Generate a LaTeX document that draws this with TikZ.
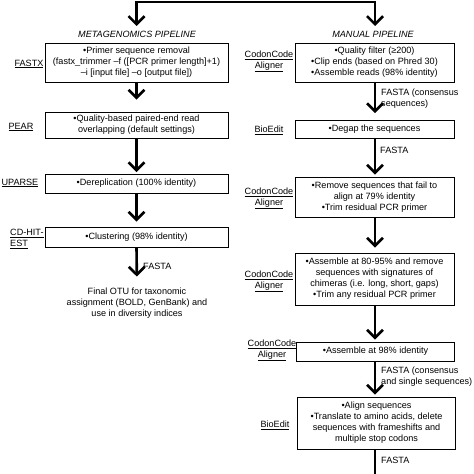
\documentclass[tikz,border=0pt]{standalone}
\usepackage{fontspec}
\setmainfont{Liberation Sans}
\usetikzlibrary{arrows.meta}
\newcommand\dfont{\fontsize{9.1}{11}\selectfont}
\tikzset{
  box/.style={draw, line width=0.8pt, align=center, inner sep=0pt, font=\dfont},
  lbl/.style={align=center, inner sep=0pt, font=\dfont},
  tool/.style={align=center, inner sep=0pt, font=\dfont},
  heading/.style={align=center, inner sep=0pt, font=\dfont\itshape},
  thickline/.style={line width=2.6pt},
  arr/.style={line width=2.6pt, -{Straight Barb[length=8pt,width=16pt]}},
}
\begin{document}
\begin{tikzpicture}[x=1pt,y=-1pt]
\useasboundingbox (0,0) rectangle (474,474);
% top connector
\coordinate (tl) at (136.5,2);
\coordinate (tr) at (375,2);
\node[heading] (h1) at (137,34) {METAGENOMICS PIPELINE};
\node[heading] (h2) at (373,34) {MANUAL PIPELINE};
\draw[thickline, line cap=rect] (tl) -- (tr);
\draw[arr] (tl) -- (136.5,26);
\draw[arr] (tr) -- (375,26);

% left column boxes
\node[box, minimum width=183pt, minimum height=39pt] (l1) at (136.5,62.5)
  {•Primer sequence removal\\(fastx\_trimmer –f ([PCR primer length]+1)\\–i [input file] –o [output file])};
\node[box, minimum width=183pt, minimum height=26pt] (l2) at (136.5,125)
  {•Quality-based paired-end read\\overlapping (default settings)};
\node[box, minimum width=183pt, minimum height=19pt] (l3) at (136.5,183.5)
  {•Dereplication (100\% identity)};
\node[box, minimum width=183pt, minimum height=20pt] (l4) at (136.5,237)
  {•Clustering (98\% identity)};
\node[lbl] (l5) at (137,303)
  {Final OTU for taxonomic\\assignment (BOLD, GenBank) and\\use in diversity indices};

% left tools
\node[tool] (t1) at (29,64) {\underline{FASTX}};
\node[tool] (t2) at (21,127) {\underline{PEAR}};
\node[tool, anchor=east] (t3) at (38.5,183) {\underline{UPARSE}};
\node[tool, align=left, anchor=west] (t4) at (10,239) {\underline{CD-HIT-}\\\underline{EST}};

% left arrows
\draw[arr, shorten >=12pt] (l1.south) -- (l2.north);
\draw[arr, shorten >=1.5pt] (l2.south) -- (l3.north);
\draw[arr, shorten >=5pt] (l3.south) -- (l4.north);
\draw[arr, shorten >=11pt] (l4.south) -- (l5.north);
\node[lbl, anchor=west] (f1) at (143,266) {FASTA};

% right column boxes
\node[box, minimum width=159pt, minimum height=39pt] (r1) at (374.5,62.5)
  {•Quality filter (≥200)\\•Clip ends (based on Phred 30)\\•Assemble reads (98\% identity)};
\node[box, minimum width=159pt, minimum height=18pt] (r2) at (374.5,129.5)
  {•Degap the sequences};
\node[box, minimum width=159pt, minimum height=40pt] (r3) at (374.5,197)
  {•Remove sequences that fail to\\align at 79\% identity\\•Trim residual PCR primer};
\node[box, minimum width=159pt, minimum height=52pt] (r4) at (374.5,279)
  {•Assemble at 80-95\% and remove\\sequences with signatures of\\chimeras (i.e. long, short, gaps)\\•Trim any residual PCR primer};
\node[box, minimum width=158pt, minimum height=19pt] (r5) at (375.5,351.5)
  {•Assemble at 98\% identity};
\node[box, minimum width=158pt, minimum height=52pt] (r6) at (376.5,423)
  {•Align sequences\\•Translate to amino acids, delete\\sequences with frameshifts and\\multiple stop codons};
\coordinate (rend) at (375,476);

% right tools
\node[tool] (s1) at (269,61.5) {\underline{CodonCode}\\\underline{Aligner}};
\node[tool] (s2) at (269,130) {\underline{BioEdit}};
\node[tool] (s3) at (269,198.5) {\underline{CodonCode}\\\underline{Aligner}};
\node[tool] (s4) at (269,281.5) {\underline{CodonCode}\\\underline{Aligner}};
\node[tool] (s5) at (272,350.5) {\underline{CodonCode}\\\underline{Aligner}};
\node[tool] (s6) at (275,425) {\underline{BioEdit}};

% right arrows
\draw[arr, shorten >=7pt] (r1.south -| 375,0) -- (r2.north -| 375,0);
\draw[arr, shorten >=2pt] (r2.south -| 375,0) -- (r3.north -| 375,0);
\draw[arr, shorten >=5pt] (r3.south -| 375,0) -- (r4.north -| 375,0);
\draw[arr, shorten >=2pt] (r4.south -| 375,0) -- (r5.north -| 375,0);
\draw[arr, shorten >=2pt] (r5.south -| 375,0) -- (r6.north -| 375,0);
\draw[thickline] (r6.south -| 375,0) -- (rend);

% right arrow labels
\node[lbl, align=left, anchor=west] (g1) at (381,99) {FASTA (consensus\\sequences)};
\node[lbl, anchor=west] (g2) at (380,150) {FASTA};
\node[lbl, align=left, anchor=west] (g3) at (381,376.5) {FASTA (consensus\\and single sequences)};
\node[lbl, anchor=west] (g4) at (381,460) {FASTA};
\end{tikzpicture}
\end{document}
